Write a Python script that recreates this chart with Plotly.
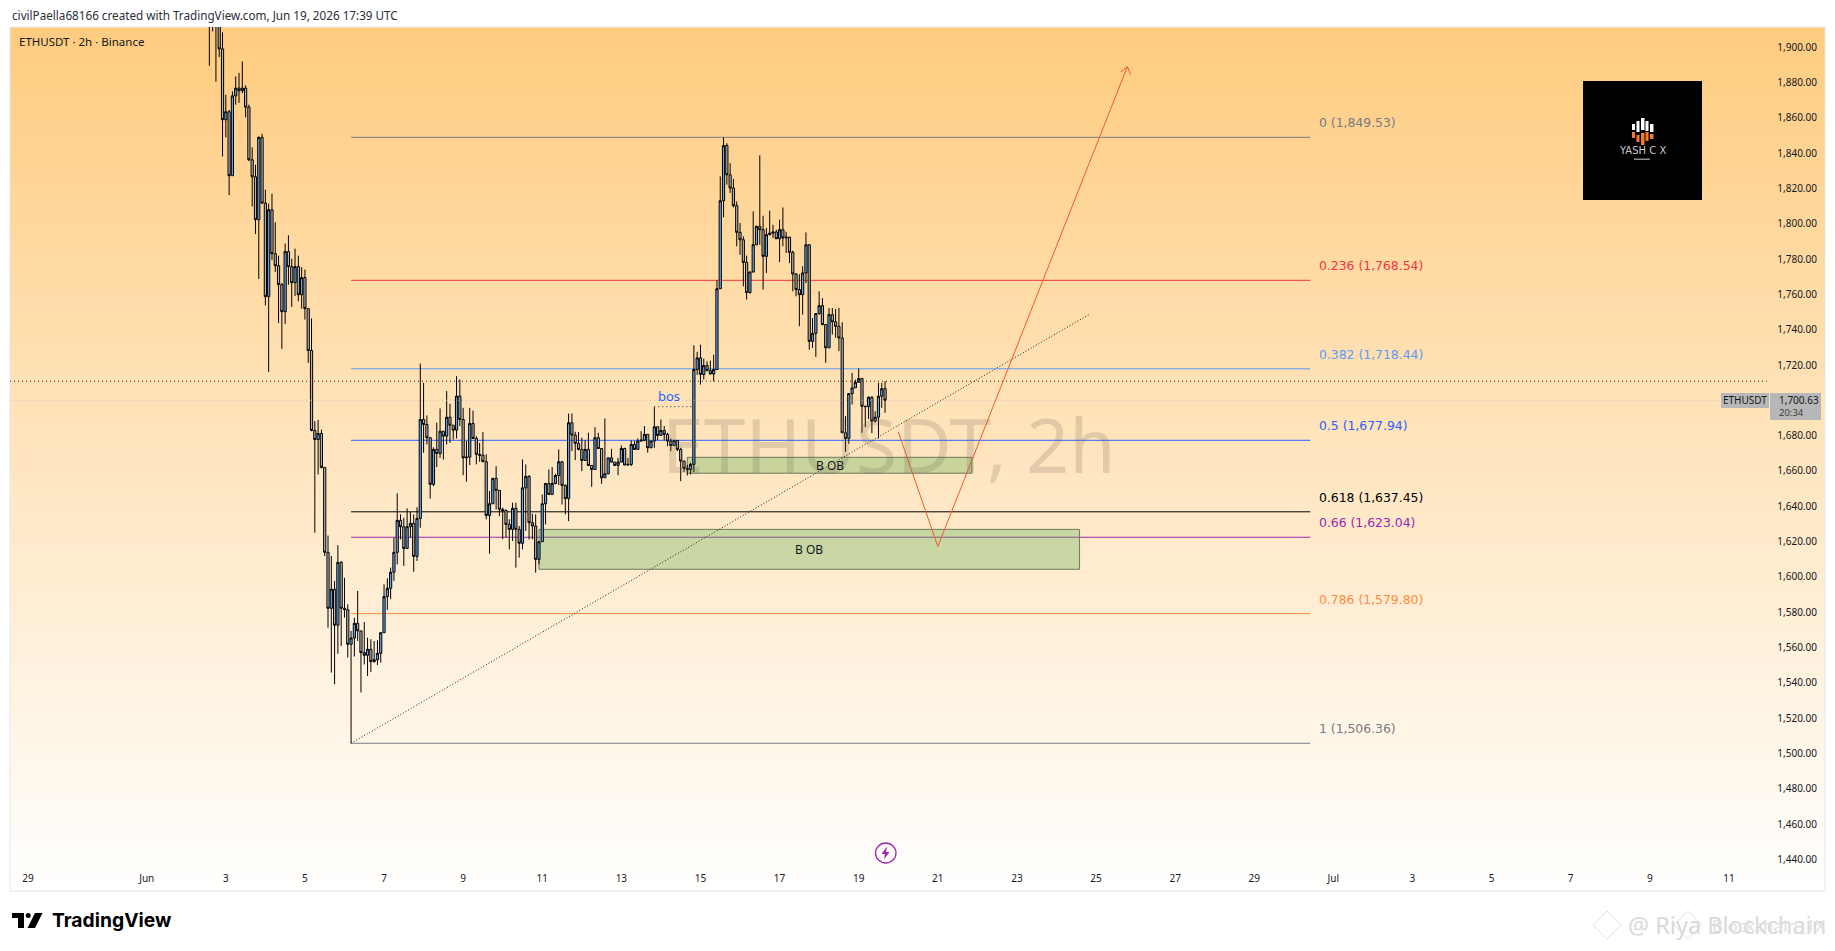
import pandas as pd
import plotly.graph_objects as go

# ETHUSDT 2h candles (first bar: Jun 2 14:00)
first_bar = "2026-06-02 14:00"
opens = [
    1925, 1915, 1920, 1916, 1899.6, 1859.5, 1864, 1827.8, 1873, 1877.4,
    1875.9, 1877.4, 1866.6, 1836.8, 1827.2, 1802.9, 1849.5, 1812.3, 1759.3, 1808.5,
    1783.6, 1776.8, 1766.1, 1750.8, 1784.8, 1776.3, 1767.2, 1776.3, 1760.4, 1770.1,
    1752.5, 1728.8, 1683.5, 1678.4, 1681.8, 1662.6, 1614.5, 1582.8, 1593.6, 1573.2,
    1608.8, 1582.8, 1582, 1562.4, 1566, 1574.3, 1570, 1557.7, 1556.2, 1559.6,
    1552.6, 1553.7, 1557.3, 1569, 1589.4, 1594.1, 1603.2, 1614.5, 1632.6, 1629,
    1616.7, 1629, 1630.9, 1612.2, 1633.7, 1689.7, 1686.9, 1679.4, 1653, 1672.8,
    1670.5, 1683.1, 1680.3, 1691, 1686.5, 1683.7, 1703, 1689.7, 1668, 1668.4,
    1687.5, 1679, 1670, 1669.5, 1665.8, 1635.4, 1642, 1656.4, 1649.6, 1638.8,
    1638.2, 1630.3, 1627.5, 1639.4, 1627.5, 1619.6, 1651, 1657.5, 1631.3, 1629.4,
    1610.5, 1620.5, 1642, 1653.5, 1647.3, 1653.5, 1658, 1665.8, 1652.4, 1644.9,
    1687.9, 1680.9, 1676.2, 1672.8, 1666.5, 1672.8, 1663.7, 1661.4, 1679.4, 1673.3,
    1656.7, 1659, 1668, 1665.6, 1663.7, 1665.6, 1673.3, 1663.9, 1664.3, 1675.6,
    1672.8, 1677.5, 1678, 1681.3, 1673.7, 1677.5, 1685.6, 1680.7, 1683.5, 1681.3,
    1677.5, 1675, 1677.9, 1672.8, 1666.2, 1662, 1661.4, 1664.3, 1718, 1724.6,
    1715.2, 1720.3, 1717.4, 1715.5, 1718, 1763.8, 1813.6, 1844.9, 1828.3, 1820.8,
    1810.8, 1795.7, 1791.5, 1778.7, 1761.6, 1773.3, 1788.7, 1799.1, 1797.2, 1782.1,
    1794.4, 1795.3, 1795.9, 1792.1, 1797.2, 1792.5, 1793, 1784.4, 1772.1, 1763.3,
    1760.4, 1772.7, 1788.7, 1734, 1738.5, 1749.7, 1754.2, 1743.5, 1730.3, 1749.1,
    1745, 1742.5, 1735.9, 1682.2, 1679, 1704.4, 1707.6, 1710.8, 1712.9, 1697.2,
    1697, 1702.3, 1688.8, 1691, 1702.9, 1707.2,
]
highs = [
    1935, 1925, 1930, 1925, 1909, 1873.6, 1865, 1875.5, 1884, 1886,
    1892.5, 1879, 1868, 1843.8, 1834, 1850, 1851.5, 1819.9, 1812, 1817.6,
    1801.4, 1782.5, 1767, 1789.3, 1794, 1780.8, 1786.5, 1782.5, 1776, 1774.6,
    1752.5, 1746.9, 1688.8, 1689.4, 1684, 1662.6, 1624, 1612.4, 1598.3, 1618.6,
    1609.6, 1600.1, 1585, 1570, 1577.5, 1592.6, 1570, 1575, 1566.2, 1565.3,
    1564.3, 1564.7, 1569, 1596.4, 1599.8, 1605.8, 1622.8, 1647.9, 1636, 1634.1,
    1639.4, 1637.3, 1636, 1640, 1721.4, 1710.5, 1692, 1679.8, 1674, 1687.9,
    1696, 1683.1, 1705.8, 1698.6, 1686.5, 1714.3, 1712.4, 1696.3, 1677.5, 1696.3,
    1694.8, 1680.3, 1676.5, 1682.6, 1670, 1649.2, 1656.7, 1663.3, 1649.6, 1639.8,
    1638.8, 1633.2, 1642.6, 1642.6, 1629.4, 1667.1, 1664.3, 1658.2, 1636.4, 1636,
    1620.9, 1647.3, 1653.5, 1661.4, 1662.8, 1659, 1672.8, 1666.2, 1653, 1693.1,
    1693.1, 1682.8, 1682.6, 1679.4, 1677.9, 1682.2, 1663.7, 1685.4, 1682.2, 1673.3,
    1690.3, 1668, 1673.1, 1665.6, 1668, 1675, 1673.7, 1668, 1677.9, 1677.5,
    1679, 1683.1, 1686, 1681.3, 1677.5, 1696.7, 1685.6, 1689.7, 1686, 1682.2,
    1679, 1677.9, 1677.9, 1673.7, 1666.2, 1664, 1665.2, 1731.8, 1728, 1732.1,
    1724.2, 1722.7, 1723.1, 1726.5, 1768.5, 1827.4, 1849.5, 1846.2, 1834.9, 1826,
    1813.2, 1801, 1793.4, 1782.5, 1773.3, 1807.6, 1799.5, 1839.3, 1805.1, 1798.2,
    1808, 1800, 1797.2, 1802.9, 1809.8, 1796, 1793, 1785.3, 1772.7, 1772,
    1776.5, 1795.7, 1788.7, 1747.2, 1749.7, 1762.3, 1758.5, 1743.5, 1752.9, 1752.9,
    1752.3, 1752.9, 1744.8, 1691.6, 1704.4, 1716.1, 1712.3, 1718.6, 1713.3, 1697.6,
    1702.9, 1702.9, 1694.4, 1710.5, 1710.5, 1711.4,
]
lows = [
    1890, 1909.5, 1881, 1895, 1838.7, 1849.5, 1816.8, 1827.8, 1868, 1869,
    1874.5, 1860.8, 1836, 1810.4, 1794.8, 1769.3, 1812, 1754.4, 1716.7, 1780,
    1773.3, 1744.4, 1729.7, 1743.9, 1766, 1753.5, 1759.7, 1756.7, 1752.5, 1746.3,
    1721.8, 1683, 1625.6, 1658.6, 1662, 1612.4, 1571.8, 1546.4, 1539.8, 1557,
    1561.5, 1577.5, 1554.9, 1506.36, 1555.5, 1564.3, 1535.1, 1551, 1544.5, 1546.8,
    1552, 1550.7, 1552, 1569, 1581.9, 1587.9, 1598.3, 1607.7, 1621.8, 1606.8,
    1616.7, 1622.8, 1603.5, 1609.6, 1628.4, 1670.9, 1675.6, 1644.9, 1652, 1662.8,
    1668, 1667, 1675.6, 1676.5, 1678.4, 1679, 1686, 1658.2, 1654.5, 1663.9,
    1679, 1664.3, 1665.8, 1665.8, 1633.2, 1613.7, 1642, 1638.8, 1635, 1622,
    1622.8, 1616.2, 1620.9, 1605.8, 1611.5, 1616.2, 1626.6, 1621.8, 1621.8, 1603,
    1607.7, 1620.5, 1630.3, 1647, 1647, 1653, 1652.6, 1641.6, 1636, 1632.2,
    1671.8, 1666.7, 1672.2, 1660.5, 1666.5, 1663.3, 1651.6, 1661.4, 1673.1, 1653.3,
    1656.7, 1658.6, 1665.6, 1663.7, 1658.2, 1665.6, 1663.9, 1663.9, 1663.3, 1672.8,
    1672.8, 1677.4, 1677.4, 1670.9, 1673.7, 1673.7, 1677.9, 1680.4, 1677.9, 1674.6,
    1671.8, 1675, 1671.8, 1654.8, 1660, 1658, 1658.6, 1660, 1715, 1709.5,
    1712.3, 1717, 1715.3, 1711.4, 1718, 1763.8, 1804.2, 1822.7, 1818, 1809.8,
    1787.8, 1783, 1765.1, 1757.6, 1761, 1773, 1788.7, 1788.7, 1763.3, 1772.7,
    1794, 1792.5, 1792, 1778.9, 1787.8, 1784, 1778.3, 1762.3, 1759.5, 1742.5,
    1749.1, 1767, 1729.3, 1730.3, 1725.2, 1749.1, 1743, 1721.8, 1730.3, 1737.8,
    1736, 1728.4, 1682.2, 1671.4, 1675.9, 1698.2, 1707.6, 1710.8, 1682.2, 1685.4,
    1690, 1682, 1688, 1679, 1696.3, 1693.5,
]
closes = opens[1:] + [1700.63]

fib_ratios = ["0", "0.236", "0.382", "0.5", "0.618", "0.66", "0.786", "1"]
fib_prices = [1849.53, 1768.54, 1718.44, 1677.94, 1637.45, 1623.04, 1579.80, 1506.36]
fib_colors = ["#787b86", "#f23645", "#5b9cf6", "#2962ff", "#000000", "#9c27b0", "#ff8a3d", "#787b86"]
fib_start = "2026-06-06 04:00"
fib_end = "2026-06-30 10:00"
fib_label_x = "2026-06-30 14:15"

ob_starts = ["2026-06-14 16:00", "2026-06-10 22:00"]
ob_ends = ["2026-06-21 20:40", "2026-06-24 14:00"]
ob_tops = [1668.3, 1627.5]
ob_bottoms = [1659.3, 1604.9]

path_x = ["2026-06-20 00:00", "2026-06-21 00:00", "2026-06-25 19:00"]
path_y = [1682.8, 1617.8, 1889.5]
arrow_x = ["2026-06-25 15:00", "2026-06-25 19:00", "2026-06-25 21:00"]
arrow_y = [1886.5, 1889.5, 1885]
trend_x = ["2026-06-06 04:00", "2026-06-24 20:00"]
trend_y = [1506.36, 1749.3]
bos_x = ["2026-06-13 20:00", "2026-06-14 19:00"]
bos_y = [1697, 1697]
# the two dotted horizontals running in from the left edge
cross_x = ["2026-05-28 13:03", "2026-07-11 23:00"]
cross_y = [1711.4, 1711.4]
last_x = ["2026-05-28 13:03", "2026-07-10 19:00"]
last_y = [1700.63, 1700.63]

y_ticks = [1440, 1460, 1480, 1500, 1520, 1540, 1560, 1580, 1600, 1620, 1640, 1660, 1680,
           1720, 1740, 1760, 1780, 1800, 1820, 1840, 1860, 1880, 1900]
x_ticks = ["2026-05-29", "2026-06-01", "2026-06-03", "2026-06-05", "2026-06-07", "2026-06-09",
           "2026-06-11", "2026-06-13", "2026-06-15", "2026-06-17", "2026-06-19", "2026-06-21",
           "2026-06-23", "2026-06-25", "2026-06-27", "2026-06-29", "2026-07-01", "2026-07-03",
           "2026-07-05", "2026-07-07", "2026-07-09", "2026-07-11"]
x_labels = ["29", "Jun", "3", "5", "7", "9", "11", "13", "15", "17", "19", "21",
            "23", "25", "27", "29", "Jul", "3", "5", "7", "9", "11"]

W, H = 1835, 951
L, R, T, B = 10, 1825, 27, 891
FONT = "Noto Sans"
DOTTED = "1px,3px"


def px(x):
    return (x - L) / (R - L)


def py(y):
    return (B - y) / (B - T)


def paper_rect(x0, y0, x1, y1, **kw):
    return dict(type="rect", xref="paper", yref="paper", x0=px(x0), x1=px(x1), y0=py(y0), y1=py(y1), **kw)


def paper_poly(points, **kw):
    d = "M" + " L".join(f"{px(x):.5f},{py(y):.5f}" for x, y in points) + " Z"
    return dict(type="path", xref="paper", yref="paper", path=d, **kw)


def label(x, y, text, size=12, color="#131722", xanchor="left", font=FONT, **kw):
    return dict(xref="paper", yref="paper", x=px(x), y=py(y), text=text, showarrow=False,
                xanchor=xanchor, yanchor="middle", font=dict(family=font, size=size, color=color), **kw)


bars = pd.date_range(first_bar, periods=len(opens), freq="2h")

shapes = []
# background gradient
n_bands = 216
for i in range(n_bands):
    t = i / (n_bands - 1)
    shapes.append(dict(type="rect", xref="paper", yref="paper", x0=0, x1=1,
                       y1=1 - i / n_bands, y0=1 - (i + 1) / n_bands, layer="below", line_width=0,
                       fillcolor=f"rgb(255,{204 + 51 * t:.0f},{128 + 127 * t:.0f})"))
shapes.append(dict(type="rect", xref="paper", yref="paper", x0=0, x1=1, y0=0, y1=1, layer="below",
                   line=dict(color="#e6e6e6", width=1)))
for price, color in zip(fib_prices, fib_colors):
    shapes.append(dict(type="line", x0=fib_start, x1=fib_end, y0=price, y1=price, layer="below",
                       line=dict(color=color, width=1)))
for x0, x1, top, bottom in zip(ob_starts, ob_ends, ob_tops, ob_bottoms):
    shapes.append(dict(type="rect", x0=x0, x1=x1, y0=bottom, y1=top, layer="below",
                       fillcolor="rgba(98,178,86,0.35)", line=dict(color="#6e7a5c", width=1)))

# price tags on the right
shapes.append(paper_rect(1721, 393, 1769, 408, fillcolor="#b7b7b7", line_width=0))
shapes.append(paper_rect(1770, 393, 1821, 420, fillcolor="#b7b7b7", line_width=0))

# logo box
shapes.append(paper_rect(1583, 81, 1702, 200, fillcolor="#000000", line_width=0))
logo_bars = [(1632, 1635, 124, 130, 132, 138), (1636.5, 1639.5, 121, 132, 135, 142), (1641, 1644.5, 118, 130, 133, 145),
             (1645.5, 1648.5, 121, 131, 132, 141), (1650, 1653.5, 124, 132, 134, 139)]
for x0, x1, w0, w1, o0, o1 in logo_bars:
    shapes.append(paper_rect(x0, w0, x1, w1, fillcolor="#ffffff", line_width=0))
    shapes.append(paper_rect(x0, o0, x1, o1, fillcolor="#f47a2e", line_width=0))
shapes.append(paper_rect(1634, 158.5, 1650, 160, fillcolor="#8a8a8a", line_width=0))

# lightning badge
shapes.append(dict(type="circle", xref="paper", yref="paper", x0=px(875.5), x1=px(896), y0=py(863), y1=py(843),
                   line=dict(color="#9c27b0", width=1.3)))
shapes.append(paper_poly([(887, 846.5), (881.5, 854), (885, 854), (884, 859.5), (889.5, 852), (886, 852)],
                         fillcolor="#9c27b0", line_width=0))

# TradingView mark
shapes.append(paper_poly([(12, 913), (24, 913), (24, 928), (18, 928), (18, 918), (12, 918)], fillcolor="#000000", line_width=0))
shapes.append(dict(type="circle", xref="paper", yref="paper", x0=px(25.7), x1=px(30.7), y0=py(918), y1=py(913),
                   fillcolor="#000000", line_width=0))
shapes.append(paper_poly([(35, 913), (42.5, 913), (35, 928), (27.5, 928)], fillcolor="#000000", line_width=0))

# ghosted marks bottom right
for cx in (1607, 1688):
    shapes.append(paper_poly([(cx - 14, 925), (cx, 911), (cx + 14, 925), (cx, 939)], fillcolor="rgba(0,0,0,0)",
                             line=dict(color="#e2e2e2", width=1)))

annotations = [
    label(10, 14.5, "civilPaella68166 created with TradingView.com, Jun 19, 2026 17:39 UTC", size=11.7, color="#2a2e39"),
    label(16.5, 41.5, "ETHUSDT · 2h · Binance", size=11.5, color="#131722"),
    label(889, 444, "ETHUSDT, 2h", size=75, color="rgba(120,110,90,0.22)", xanchor="center"),
    label(669, 396, "bos", size=13, color="#2962ff", xanchor="center"),
    label(1744.5, 400.5, "ETHUSDT", size=10, color="#131722", xanchor="center"),
    label(1777, 400, "1,700.63", size=10, color="#131722"),
    label(1777, 412, "20:34", size=9.5, color="#3c3c3c"),
    label(1642.5, 150, "YASH C X", size=10, color="#c8c8c8", xanchor="center", font="DejaVu Sans"),
    label(50, 920, "<b>TradingView</b>", size=19.3, color="#000000", font="Inter"),
    label(1626, 925, "@ Riya Blockchain", size=23.5, color="#d9d9d9"),
    label(1827, 925, "Blockchain_1X", size=17, color="#e0e0e0", xanchor="right"),
]
for ratio, price, color in zip(fib_ratios, fib_prices, fib_colors):
    annotations.append(dict(x=fib_label_x, y=price, yshift=14.5, text=f"{ratio} ({price:,.2f})", showarrow=False,
                            xanchor="left", yanchor="middle", font=dict(family="DejaVu Sans", size=12.4, color=color)))
for x0, x1, top, bottom in zip(ob_starts, ob_ends, ob_tops, ob_bottoms):
    annotations.append(dict(x=pd.Timestamp(x0) + (pd.Timestamp(x1) - pd.Timestamp(x0)) / 2, y=(top + bottom) / 2,
                            text="B OB", showarrow=False, font=dict(family=FONT, size=12, color="#131722")))

fig = go.Figure()
fig.add_trace(go.Candlestick(
    x=bars, open=opens, high=highs, low=lows, close=closes, whiskerwidth=0,
    increasing=dict(line=dict(color="#000000", width=1), fillcolor="#62a8f0"),
    decreasing=dict(line=dict(color="#000000", width=1), fillcolor="#b4b4b4"),
))
fig.add_trace(go.Scatter(x=trend_x, y=trend_y, mode="lines", line=dict(color="#222222", width=1, dash="1px,2px")))
fig.add_trace(go.Scatter(x=bos_x, y=bos_y, mode="lines", line=dict(color="#222222", width=1, dash=DOTTED)))
fig.add_trace(go.Scatter(x=cross_x, y=cross_y, mode="lines", line=dict(color="#222222", width=1, dash=DOTTED)))
fig.add_trace(go.Scatter(x=last_x, y=last_y, mode="lines", line=dict(color="#aeb2c8", width=1, dash=DOTTED)))
fig.add_trace(go.Scatter(x=path_x, y=path_y, mode="lines", line=dict(color="#f2592b", width=1)))
fig.add_trace(go.Scatter(x=arrow_x, y=arrow_y, mode="lines", line=dict(color="#f2592b", width=1)))

fig.update_layout(
    width=W, height=H, autosize=False, showlegend=False,
    paper_bgcolor="#ffffff", plot_bgcolor="#ffffff",
    margin=dict(l=L, r=W - R, t=T, b=H - B, pad=0),
    font=dict(family=FONT, size=10, color="#131722"),
    shapes=shapes, annotations=annotations,
    boxgap=0.05,
)
fig.update_xaxes(
    type="date", range=["2026-05-28 13:03", "2026-07-13 10:19"], rangeslider_visible=False,
    tickmode="array", tickvals=x_ticks, ticktext=x_labels, showgrid=False, zeroline=False, showline=False,
    ticks="inside", ticklen=6, tickcolor="rgba(0,0,0,0)", ticklabelposition="inside",
    tickfont=dict(family=FONT, size=10, color="#131722"),
)
fig.update_yaxes(
    side="right", range=[1422.7, 1912.0], tickmode="array", tickvals=y_ticks, tickformat=",.2f",
    showgrid=False, zeroline=False, showline=False,
    ticks="inside", ticklen=7, tickcolor="rgba(0,0,0,0)", ticklabelposition="inside",
    tickfont=dict(family=FONT, size=10, color="#131722"), ticklabelshift=-1,
)

fig.write_html("out.html", config={"displayModeBar": False}, post_script="document.body.style.margin='0';")
